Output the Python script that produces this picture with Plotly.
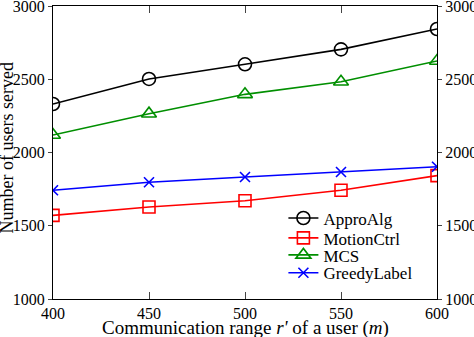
import plotly.graph_objects as go

x_range_m = [400, 450, 500, 550, 600]
appro_alg = [2331, 2502, 2602, 2704, 2843]
motion_ctrl = [1571, 1628, 1671, 1742, 1842]
mcs = [2119, 2265, 2397, 2483, 2625]
greedy_label = [1742, 1797, 1833, 1867, 1903]
y_ticks = [1000, 1500, 2000, 2500, 3000]
x_ticks = [400, 450, 500, 550, 600]

FONT = "Liberation Serif"

fig = go.Figure()
series = [
    ("ApproAlg", appro_alg, "black", "circle-open", 13, "legend", 0.275),
    ("MotionCtrl", motion_ctrl, "#ff0000", "square-open", 12, "legend2", 0.207),
    ("MCS", mcs, "#008f00", "triangle-up-open", 13, "legend3", 0.149),
    ("GreedyLabel", greedy_label, "#0000ff", "x-thin-open", 10, "legend4", 0.088),
]
legend_layout = {}
for name, vals, col, sym, sz, lg, ly in series:
    fig.add_trace(go.Scatter(
        x=x_range_m, y=vals, name=name, mode="lines+markers", legend=lg,
        line=dict(color=col, width=1.6),
        marker=dict(symbol=sym, size=sz, color=col, line=dict(color=col, width=1.6)),
    ))
    legend_layout[lg] = dict(x=0.60, y=ly, xanchor="left", yanchor="middle",
                             bgcolor="rgba(0,0,0,0)", borderwidth=0,
                             font=dict(family=FONT, size=17, color="black"),
                             itemwidth=30)

fig.update_layout(
    width=474, height=337,
    margin=dict(l=53, r=37, t=6, b=38),
    paper_bgcolor="white", plot_bgcolor="white",
    font=dict(family=FONT, size=16, color="black"),
    showlegend=True,
    xaxis=dict(range=[400, 600], tickvals=x_ticks, ticks="inside", ticklen=7,
               showline=True, linecolor="black", linewidth=1.2, mirror="ticks",
               showgrid=False, zeroline=False, ticklabeloverflow="allow",
               automargin=False, tickfont=dict(family=FONT, size=16)),
    yaxis=dict(range=[1000, 3000], tickvals=y_ticks, ticks="outside", ticklen=4,
               showline=True, linecolor="black", linewidth=1.2, mirror=True,
               showgrid=False, zeroline=False, ticklabeloverflow="allow",
               automargin=False, tickfont=dict(family=FONT, size=16)),
    yaxis2=dict(range=[1000, 3000], tickvals=y_ticks, ticks="outside", ticklen=4,
                overlaying="y", side="right", anchor="x", ticklabeloverflow="allow",
                automargin=False,
                showline=False, showgrid=False, zeroline=False,
                tickfont=dict(family=FONT, size=16)),
    annotations=[
        dict(text="Communication range <i>r'</i> of a user (<i>m</i>)",
             xref="paper", yref="paper", x=0.5, y=-0.099, xanchor="center",
             yanchor="middle", showarrow=False, font=dict(family=FONT, size=19)),
        dict(text="Number of users served", textangle=-90,
             xref="paper", yref="paper", x=-0.119, y=0.515, xanchor="center",
             yanchor="middle", showarrow=False, font=dict(family=FONT, size=18)),
    ],
    **legend_layout,
)
fig.add_trace(go.Scatter(x=[400], y=[1000], yaxis="y2", showlegend=False,
                         mode="markers", marker=dict(opacity=0), hoverinfo="skip"))

fig.write_html("out.html")
